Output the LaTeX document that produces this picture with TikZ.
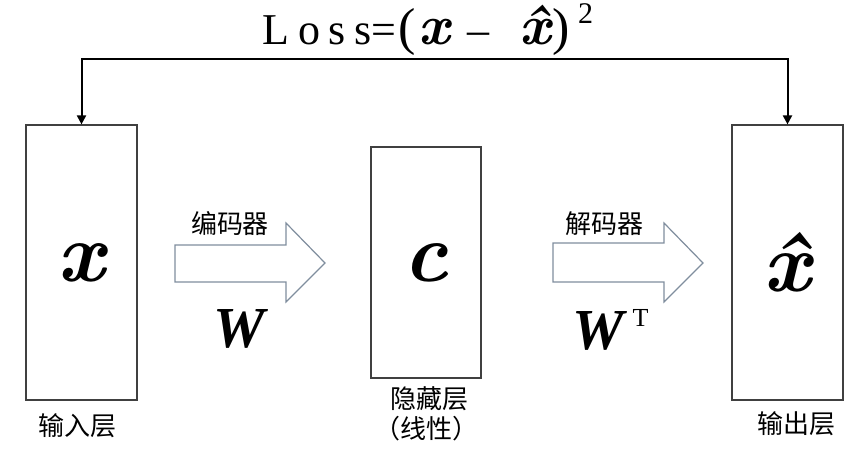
\documentclass[tikz,border=0pt]{standalone}
\usepackage{fontspec}
\setmainfont{Liberation Serif}
\newfontfamily\cjk{Noto Sans CJK SC}
\newfontfamily\bxfont{lmroman10-bolditalic.otf}
\usetikzlibrary{arrows.meta}
\definecolor{boxgray}{RGB}{64,64,64}
\definecolor{arrowgray}{RGB}{128,142,158}
\tikzstyle{layerBox}=[shape = rectangle, draw = boxgray, line width = 0.6pt, inner sep = 0pt, font = \fontsize{42}{42}\bxfont]
\tikzstyle{blockArrow}=[draw = arrowgray, line width = 0.6pt, fill = white]
\tikzstyle{cnLabel}=[inner sep = 0pt, font = \fontsize{13}{15}\cjk]
\tikzstyle{weightLabel}=[inner sep = 0pt, font = \fontsize{29}{29}\selectfont\bfseries\itshape]
\tikzstyle{lossLine}=[line width = 1pt, {Triangle[width=4.5pt,length=4.5pt]}-{Triangle[width=4.5pt,length=4.5pt]}]
\begin{document}
\begin{tikzpicture}[x = 0.5pt, y = -0.5pt]
\useasboundingbox (0,0) rectangle (858,466);
% Layers
\node[layerBox, minimum width = 55.5pt, minimum height = 137.5pt] (input) at (81.5,262.5) {x};
\node[layerBox, minimum width = 55pt, minimum height = 115.5pt] (hidden) at (426,262.5) {c};
\node[layerBox, minimum width = 55.5pt, minimum height = 137.5pt] (output) at (787.5,262.5) {\raisebox{-3pt}{\^{x}}};
% Block arrows
\draw[blockArrow] (175,245) -- (286,245) -- (286,223) -- (325,263) -- (286,302) -- (286,282) -- (175,282) -- cycle;
\draw[blockArrow] (553,243) -- (664,243) -- (664,223) -- (703,263) -- (664,302) -- (664,282) -- (553,282) -- cycle;
% Arrow labels
\node[cnLabel] (encLabel) at (230,224) {编码器};
\node[weightLabel] (encW) at (239,329) {W};
\node[cnLabel] (decLabel) at (604,224) {解码器};
\node[weightLabel] (decW) at (598,331) {W};
\node[inner sep = 0pt, anchor = north west, font = \fontsize{13}{13}\selectfont] (decT) at ([xshift = 4pt, yshift = 1pt]decW.north east) {T};
% Layer names
\node[cnLabel] (inLabel) at (78,426) {输入层};
\node[cnLabel] (hidLabel) at (429,399) {隐藏层};
\node[cnLabel] (hidNote) at (426,429) {（线性）};
\node[cnLabel] (outLabel) at (796,424) {输出层};
% Loss
\node[inner sep = 0pt, anchor = base west, font = \fontsize{22}{22}\selectfont] (loss) at (262,44) {{\addfontfeature{LetterSpace=20}Loss}=\hspace{1pt}{\fontsize{26}{26}\selectfont(\hspace{1pt}{\fontsize{28}{28}\bxfont x}}\hspace{9pt}–\hspace{15pt}{\fontsize{28}{28}\bxfont\^{x}}\hspace{1pt}{\fontsize{26}{26}\selectfont)}\hspace{4pt}\raisebox{10pt}{\fontsize{15}{15}\selectfont 2}};
\draw[lossLine] (input.north) -- ++(0,-65) -| (output.north);
\end{tikzpicture}
\end{document}
